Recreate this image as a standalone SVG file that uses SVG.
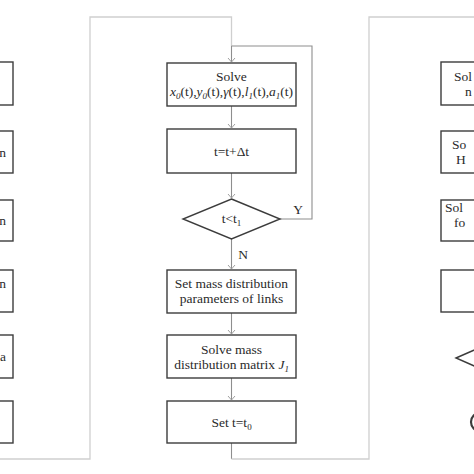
<svg xmlns="http://www.w3.org/2000/svg" width="474" height="474" viewBox="0 0 474 474">
<style>
.box{fill:#fff;stroke:#3c3c3c;stroke-width:1.4}
.dk{fill:#fff;stroke:#3c3c3c;stroke-width:2.2}
.con{fill:none;stroke:#8e8e8e;stroke-width:1.1}
.out{fill:none;stroke:#cfcfcf;stroke-width:1.3}
.t{font-family:"Liberation Serif","DejaVu Serif",serif;font-size:13.5px;fill:#2a2a2a;text-anchor:middle}
.i{font-style:italic}
</style>
<defs>
<marker id="ah" markerWidth="10" markerHeight="10" refX="5" refY="5" orient="auto" markerUnits="userSpaceOnUse">
<path d="M1,1.5 L5,5 L1,8.5" fill="none" stroke="#a0a0a0" stroke-width="1"/>
</marker>
</defs>
<rect width="474" height="474" fill="#fff"/>
<g id="connectors">
<path class="out" d="M0,459 H90 V17 H231.5 V46"/>
<path class="con" d="M231.5,46 V62" marker-end="url(#ah)"/>
<path class="con" d="M280,219 H312 V46 H231.5"/>
<path class="con" d="M231.5,106 V128" marker-end="url(#ah)"/>
<path class="con" d="M231.5,173 V198" marker-end="url(#ah)"/>
<path class="con" d="M231.5,239 V269" marker-end="url(#ah)"/>
<path class="con" d="M231.5,313 V334" marker-end="url(#ah)"/>
<path class="con" d="M231.5,378 V400" marker-end="url(#ah)"/>
<path class="con" d="M231.5,443 V459"/>
<path class="out" d="M231.5,459 H369 V17 H474"/>
<text class="t" x="298" y="214">Y</text>
<text class="t" x="243" y="259">N</text>
</g>
<g id="left-col">
<rect class="box" x="-117" y="62" width="130" height="43"/>
<rect class="box" x="-117" y="131" width="130" height="42"/>
<text class="t" x="6" y="157" style="text-anchor:end">n</text>
<rect class="box" x="-117" y="200" width="130" height="41"/>
<text class="t" x="6" y="225" style="text-anchor:end">n</text>
<rect class="box" x="-117" y="270" width="130" height="42"/>
<text class="t" x="6" y="288" style="text-anchor:end">n</text>
<rect class="box" x="-117" y="335" width="130" height="43"/>
<text class="t" x="6" y="361" style="text-anchor:end">a</text>
<rect class="box" x="-117" y="401" width="130" height="42"/>
</g>
<g id="n-solve">
<rect class="box" x="167" y="63" width="129" height="43"/>
<text class="t" x="231.5" y="81">Solve</text>
<text class="t" x="231.5" y="96"><tspan class="i">x</tspan><tspan class="i" font-size="9" dy="3">0</tspan><tspan dy="-3">(t),</tspan><tspan class="i">y</tspan><tspan class="i" font-size="9" dy="3">0</tspan><tspan dy="-3">(t),</tspan><tspan class="i">γ</tspan><tspan>(t),</tspan><tspan class="i">l</tspan><tspan class="i" font-size="9" dy="3">1</tspan><tspan dy="-3">(t),</tspan><tspan class="i">a</tspan><tspan class="i" font-size="9" dy="3">1</tspan><tspan dy="-3">(t)</tspan></text>
</g>
<g id="n-step">
<rect class="box" x="167" y="129" width="129" height="44"/>
<text class="t" x="231.5" y="156">t=t+Δt</text>
</g>
<g id="n-cond">
<polygon class="box" points="231.5,199 280,219 231.5,239 183,219"/>
<text class="t" x="231.5" y="223">t&lt;t<tspan font-size="9" dy="3">1</tspan></text>
</g>
<g id="n-setmass">
<rect class="box" x="167" y="270" width="129" height="43"/>
<text class="t" x="231.5" y="288">Set mass distribution</text>
<text class="t" x="231.5" y="303">parameters of links</text>
</g>
<g id="n-solvemass">
<rect class="box" x="167" y="335" width="129" height="43"/>
<text class="t" x="231.5" y="354">Solve mass</text>
<text class="t" x="231.5" y="369">distribution matrix <tspan class="i">J</tspan><tspan class="i" font-size="9" dy="3">1</tspan></text>
</g>
<g id="n-sett">
<rect class="box" x="167" y="401" width="129" height="42"/>
<text class="t" x="231.5" y="427">Set t=t<tspan font-size="9" dy="3">0</tspan></text>
</g>
<g id="right-col">
<rect class="box" x="441" y="62" width="130" height="43"/>
<text class="t" x="454" y="81" style="text-anchor:start">Sol</text>
<text class="t" x="465" y="96" style="text-anchor:start">n</text>
<rect class="box" x="441" y="131" width="130" height="42"/>
<text class="t" x="452" y="149" style="text-anchor:start">So</text>
<text class="t" x="456" y="164" style="text-anchor:start">H</text>
<rect class="box" x="441" y="200" width="130" height="41"/>
<text class="t" x="445" y="212" style="text-anchor:start">Sol</text>
<text class="t" x="454" y="227" style="text-anchor:start">fo</text>
<rect class="box" x="441" y="270" width="130" height="42"/>
<polygon class="box" points="456,358 504,337 552,358 504,379"/>
<rect class="dk" x="471" y="413" width="70" height="18" rx="9"/>
</g>
</svg>
